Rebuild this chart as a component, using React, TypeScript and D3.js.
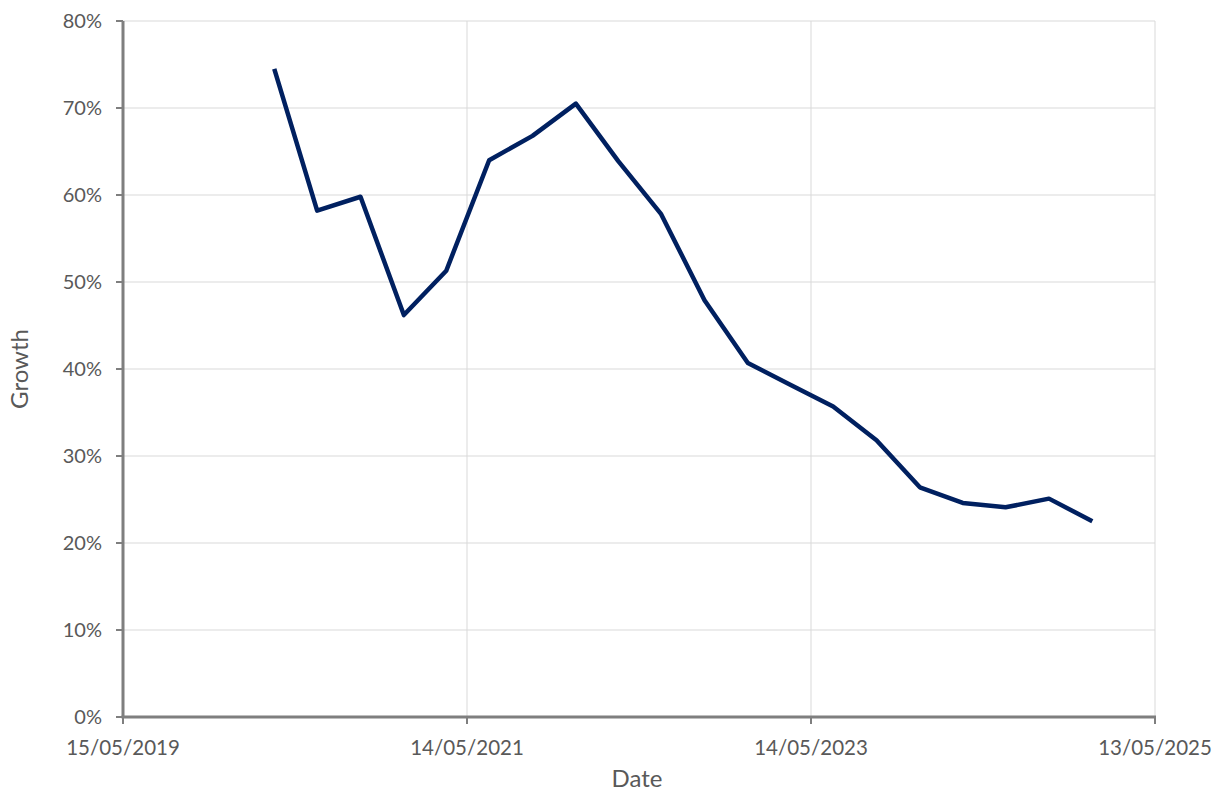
import { useEffect } from "react";
import { line, scaleLinear, scaleUtc, utcFormat } from "d3";

const WIDTH = 1221;
const HEIGHT = 798;
const MARGIN = { top: 21, right: 66, bottom: 81, left: 123 };

const DATES = [
  "2020-03-31", "2020-06-30", "2020-09-30", "2020-12-31",
  "2021-03-31", "2021-06-30", "2021-09-30", "2021-12-31",
  "2022-03-31", "2022-06-30", "2022-09-30", "2022-12-31",
  "2023-03-31", "2023-06-30", "2023-09-30", "2023-12-31",
  "2024-03-31", "2024-06-30", "2024-09-30", "2024-12-31",
];
const GROWTH = [
  74.5, 58.2, 59.8, 46.2, 51.3, 64.0, 66.8, 70.5, 63.9, 57.8,
  47.9, 40.7, 38.2, 35.7, 31.8, 26.4, 24.6, 24.1, 25.1, 22.5,
];
const X_TICKS = ["2019-05-15", "2021-05-14", "2023-05-14", "2025-05-13"];
const Y_TICKS = [0, 10, 20, 30, 40, 50, 60, 70, 80];

const FONT = "Lato, 'Open Sans', sans-serif";
const TEXT = "#595959";
const AXIS = "#7f7f7f";
const GRID = "#d9d9d9";

export default function App() {
  useEffect(() => {
    document.body.style.margin = "0";
  }, []);

  const tickDates = X_TICKS.map((d) => new Date(d + "T00:00:00Z"));
  const xScale = scaleUtc()
    .domain([tickDates[0], tickDates[tickDates.length - 1]])
    .range([MARGIN.left, WIDTH - MARGIN.right]);
  const yScale = scaleLinear()
    .domain([0, 80])
    .range([HEIGHT - MARGIN.bottom, MARGIN.top]);
  const fmt = utcFormat("%d/%m/%Y");

  const points = DATES.map((d, i) => ({ date: new Date(d + "T00:00:00Z"), value: GROWTH[i] }));
  const path = line<{ date: Date; value: number }>()
    .x((d) => xScale(d.date))
    .y((d) => yScale(d.value))(points);

  const x0 = MARGIN.left;
  const x1 = WIDTH - MARGIN.right;
  const y0 = HEIGHT - MARGIN.bottom;

  return (
    <svg
      width={WIDTH}
      height={HEIGHT}
      style={{ display: "block", background: "#fff" }}
      fontFamily={FONT}
    >
      {Y_TICKS.filter((t) => t > 0).map((t) => (
        <line key={`gy${t}`} x1={x0} x2={x1} y1={yScale(t)} y2={yScale(t)} stroke={GRID} strokeWidth={1} />
      ))}
      {tickDates.slice(1).map((d) => (
        <line key={`gx${d.getTime()}`} x1={xScale(d)} x2={xScale(d)} y1={MARGIN.top} y2={y0} stroke={GRID} strokeWidth={1} />
      ))}

      <line x1={x0} x2={x0} y1={MARGIN.top} y2={y0} stroke={AXIS} strokeWidth={3} />
      <line x1={x0 - 1.5} x2={x1 + 1} y1={y0} y2={y0} stroke={AXIS} strokeWidth={3} />

      {Y_TICKS.map((t) => (
        <g key={`ty${t}`}>
          <line x1={x0 - 7} x2={x0} y1={yScale(t)} y2={yScale(t)} stroke={AXIS} strokeWidth={2} />
          <text x={x0 - 21} y={yScale(t)} dy="0.35em" textAnchor="end" fontSize={20} fill={TEXT}>
            {t}%
          </text>
        </g>
      ))}
      {tickDates.map((d) => (
        <g key={`tx${d.getTime()}`}>
          <line x1={xScale(d)} x2={xScale(d)} y1={y0} y2={y0 + 7} stroke={AXIS} strokeWidth={2} />
          <text x={xScale(d)} y={y0 + 38} textAnchor="middle" fontSize={20.5} fill={TEXT}>
            {fmt(d)}
          </text>
        </g>
      ))}

      <text x={(x0 + x1) / 2 - 2} y={787} textAnchor="middle" fontSize={24} fill={TEXT}>
        Date
      </text>
      <text
        transform={`translate(28, ${(MARGIN.top + y0) / 2}) rotate(-90)`}
        textAnchor="middle"
        fontSize={24}
        fill={TEXT}
      >
        Growth
      </text>

      <path
        d={path ?? ""}
        fill="none"
        stroke="#002060"
        strokeWidth={4.5}
        strokeLinejoin="round"
        strokeLinecap="butt"
      />
    </svg>
  );
}
